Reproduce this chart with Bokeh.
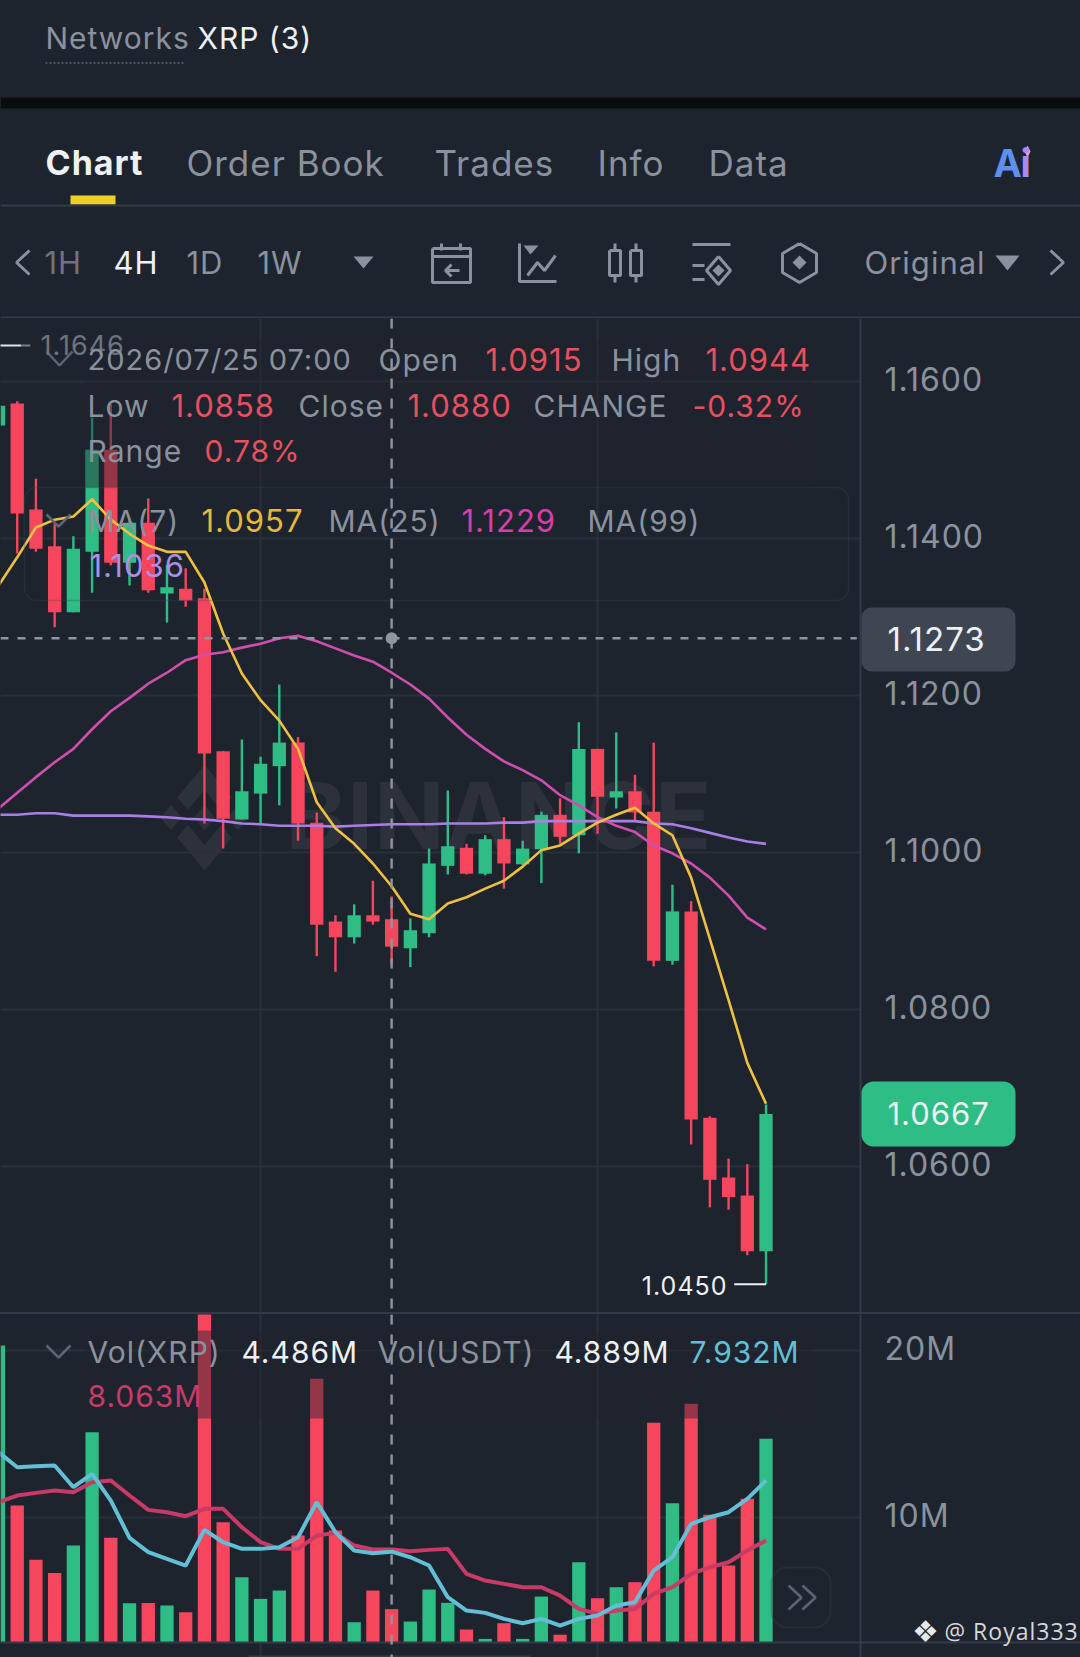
from bokeh.embed import file_html
from bokeh.resources import INLINE
from bokeh.plotting import figure
from bokeh.layouts import column
from bokeh.models import (Range1d, LinearAxis, FixedTicker, Grid, Label, BoxAnnotation, Span, Spacer,
                          NumeralTickFormatter, GlobalInlineStyleSheet)

# ---- data -----------------------------------------------------------------
opens = [1.1544,1.1572,1.1437,1.1390,1.1306,1.1383,1.1513,1.1369,1.1420,1.1330,1.1336,1.1324,1.1129,1.1042,
         1.1075,1.1110,1.1140,1.1038,1.0912,1.0892,1.0920,1.0915,1.0878,1.0897,1.0983,1.1006,1.0973,1.1017,
         1.0985,1.1004,1.1048,1.1022,1.1132,1.1070,1.1078,1.1052,1.0862,1.0925,1.0662,1.0586,1.0563,1.0492]
highs = [1.1572,1.1575,1.1476,1.1419,1.1403,1.1554,1.1571,1.1423,1.1451,1.1366,1.1362,1.1336,1.1129,1.1144,
         1.1122,1.1214,1.1147,1.1051,1.0920,1.0934,1.0964,1.0944,1.0916,1.1005,1.1079,1.1011,1.1022,1.1045,
         1.1015,1.1052,1.1069,1.1166,1.1132,1.1153,1.1099,1.1140,1.0959,1.0938,1.0664,1.0610,1.0603,1.0679]
lows  = [1.1540,1.1381,1.1383,1.1287,1.1306,1.1331,1.1366,1.1340,1.1331,1.1293,1.1313,1.1037,1.1005,1.1042,
         1.1037,1.1060,1.1015,1.0868,1.0848,1.0884,1.0908,1.0858,1.0854,1.0892,1.0972,1.0972,1.0971,1.0954,
         1.0984,1.0961,1.1011,1.0999,1.1024,1.1056,1.1041,1.0855,1.0857,1.0628,1.0548,1.0545,1.0487,1.0450]
closes= [1.1569,1.1432,1.1387,1.1306,1.1387,1.1513,1.1369,1.1420,1.1334,1.1338,1.1321,1.1126,1.1043,1.1078,
         1.1113,1.1140,1.1037,1.0908,1.0892,1.0920,1.0912,1.0880,1.0901,1.0986,1.1008,1.0973,1.1017,1.0986,
         1.1005,1.1048,1.1020,1.1132,1.1071,1.1078,1.1051,1.0862,1.0925,1.0660,1.0583,1.0561,1.0492,1.0667]
ma7   = [1.1340,1.1376,1.1414,1.1424,1.1428,1.1450,1.1424,1.1406,1.1391,1.1383,1.1383,1.1344,1.1279,1.1228,
         1.1194,1.1168,1.1132,1.1064,1.1031,1.1011,1.0986,1.0957,1.0922,1.0915,1.0935,1.0943,1.0954,1.0964,
         1.0982,1.1003,1.1009,1.1024,1.1038,1.1048,1.1057,1.1037,1.1022,1.0968,1.0890,1.0812,1.0732,1.0680]
ma25  = [1.1056,1.1076,1.1096,1.1115,1.1132,1.1157,1.1180,1.1197,1.1215,1.1229,1.1245,1.1252,1.1255,1.1261,
         1.1266,1.1273,1.1276,1.1269,1.1260,1.1251,1.1243,1.1229,1.1214,1.1196,1.1172,1.1150,1.1132,1.1116,
         1.1105,1.1092,1.1073,1.1060,1.1045,1.1034,1.1026,1.1009,1.0999,1.0986,1.0968,1.0945,1.0917,1.0902]
ma99  = [1.1048,1.1048,1.1050,1.1050,1.1047,1.1047,1.1047,1.1047,1.1046,1.1045,1.1043,1.1042,1.1040,1.1037,
         1.1036,1.1034,1.1034,1.1034,1.1033,1.1034,1.1035,1.1036,1.1036,1.1036,1.1037,1.1037,1.1037,1.1038,
         1.1038,1.1040,1.1040,1.1040,1.1040,1.1040,1.1040,1.1037,1.1036,1.1031,1.1025,1.1019,1.1014,1.1011]
volume= [20.3,10.7,7.45,6.66,8.3,15.1,8.76,4.84,4.86,4.7,4.3,23.1,9.7,6.4,5.1,5.6,8.9,18.3,9.2,3.7,5.6,4.486,
         3.74,5.66,4.86,3.26,2.7,3.64,2.7,5.24,2.95,7.3,5.14,5.8,6.1,15.66,10.84,16.8,10.14,7.1,11.1,14.7]
vol_ma_a = [13.9,13.0,13.06,13.1,11.8,12.6,11.0,8.76,7.9,7.5,7.1,9.24,8.5,8.1,8.1,8.2,8.8,10.9,9.1,8.0,7.84,7.932,
            7.6,7.1,5.2,4.4,4.26,3.9,3.64,3.9,3.5,3.9,4.1,4.7,4.9,6.8,7.6,9.6,10.0,10.3,11.1,12.2]
vol_ma_b = [10.9,11.3,11.46,11.6,11.5,12.1,12.2,11.3,10.44,10.3,10.06,10.5,10.5,9.4,8.5,8.1,8.1,8.9,9.06,8.3,8.06,8.063,
            7.96,8.04,8.1,6.6,6.2,6.0,5.8,5.8,5.3,4.5,4.2,4.4,4.5,5.4,5.8,6.6,7.0,7.3,8.0,8.6]
price_ticks = [1.06,1.08,1.10,1.12,1.14,1.16]
volume_ticks = [10,20]
time_ticks = [14,32]
cross_index = 21
cross_price = 1.1273
last_price = 1.0667
low_price = 1.0450
high_price = 1.1646

# ---- style ----------------------------------------------------------------
BG = "#1e242e"
GRID = "#2a303a"
SEP = "#343b46"
GRAY = "#8a929e"
WHITE = "#eef0f3"
RED = "#f6465d"
GREEN = "#2ebd85"
TXT_RED = "#e8505f"
YEL = "#f0c040"
MAG = "#d04fae"
PUR = "#a97fe6"
CYAN = "#62bfd6"
VRED = "#c93a66"
WM = "#2c313b"
CROSS = "#8f96a0"
FONT = "Inter"

idx = list(range(len(opens)))
colors = [GREEN if c >= o else RED for o, c in zip(opens, closes)]
xspan = (0.1068, 57.799)     # the frame runs over the whole page width
x_axis_at = 46.047           # where the value axis stands


def base(h, yr):
    f = figure(width=1080, height=h, x_range=Range1d(*xspan), y_range=yr, output_backend="svg",
               toolbar_location=None, x_axis_location=None, y_axis_location=None,
               background_fill_color=BG, border_fill_color=BG, outline_line_color=None,
               min_border=0, min_border_left=0, min_border_right=0, min_border_top=0, min_border_bottom=0)
    f.grid.visible = False
    return f


def lab(f, x, y, text, color=GRAY, size=30, weight="normal", align="left", font=FONT, level="annotation", rng=True):
    kw = dict(x_range_name="px", y_range_name="py") if rng else {}
    f.add_layout(Label(x=x, y=y, text=text, text_color=color, text_font=font, text_font_size=f"{size}px",
                       text_font_style=weight, text_align=align, text_baseline="middle", level=level, **kw))


def box(f, l, r, t, b, fill=None, alpha=1.0, line=None, radius=0, lw=1.5):
    f.add_layout(BoxAnnotation(left=l, right=r, top=t, bottom=b, x_range_name="px", y_range_name="py",
                               fill_color=fill, fill_alpha=alpha, line_color=line, line_width=lw,
                               border_radius=radius))


def value_axis(f, ticks, rng_name, fmt=None, overrides=None):
    ax = LinearAxis(y_range_name=rng_name, ticker=FixedTicker(ticks=ticks), fixed_location=x_axis_at,
                    major_tick_line_color=None, minor_tick_line_color=None, major_tick_out=0, major_tick_in=0,
                    axis_line_color=SEP, axis_line_width=2, major_label_standoff=24,
                    major_label_text_color=GRAY, major_label_text_font=FONT, major_label_text_font_size="32px")
    if fmt:
        ax.formatter = fmt
    if overrides:
        ax.major_label_overrides = overrides
    f.add_layout(ax, "right")


def grids(f, yticks):
    f.add_layout(Grid(dimension=1, ticker=FixedTicker(ticks=yticks), grid_line_color=GRID, grid_line_width=2,
                      cross_bounds=(xspan[0], x_axis_at)))
    f.add_layout(Grid(dimension=0, ticker=FixedTicker(ticks=time_ticks), grid_line_color=GRID, grid_line_width=2))


# ---- header ---------------------------------------------------------------
hd = figure(width=1080, height=318, x_range=Range1d(0, 1080), y_range=Range1d(318, 0), output_backend="svg",
            toolbar_location=None, x_axis_location=None, y_axis_location=None,
            background_fill_color=BG, border_fill_color=BG, outline_line_color=None, min_border=0,
            min_border_left=0, min_border_right=0, min_border_top=0, min_border_bottom=0)
hd.grid.visible = False
lh = lambda x, y, t, c=GRAY, s=30, w="normal", a="left": lab(hd, x, y, t, c, s, w, a, rng=False)
lh(45, 37, "Networks")
lh(197, 37, "XRP (3)", WHITE)
hd.line([45, 185], [62.5, 62.5], line_color="#5a616c", line_width=1.5, line_dash="2 2")
hd.quad(left=[0], right=[1080], top=[97], bottom=[108], fill_color="#0a0d10", line_color=None)
lh(45, 162, "Chart", WHITE, 34, "bold")
lh(186, 162, "Order Book", GRAY, 35)
lh(434, 162, "Trades", GRAY, 35)
lh(597, 162, "Info", GRAY, 35)
lh(708, 162, "Data", GRAY, 35)
lh(993, 162, "A", "#5f8ff0", 38, "bold")
lh(1020, 162, "i", "#a68bf0", 38, "bold")
hd.patch([1027, 1030, 1027, 1024], [145, 151, 157, 151], fill_color="#e8a0d8", line_color=None)
hd.quad(left=[70], right=[115], top=[195], bottom=[204], fill_color="#f0cf2a", line_color=None)
hd.line([0, 1080], [205, 205], line_color=SEP, line_width=2)
hd.line([0, 1080], [317, 317], line_color=SEP, line_width=2)
# time row
lh(44, 262, "1H", "#6d7480", 31)
lh(113, 262, "4H", WHITE, 31)
lh(186, 262, "1D", GRAY, 31)
lh(257, 262, "1W", GRAY, 31)
lh(864, 262, "Original", GRAY, 31)
hd.multi_line([[29, 16, 29], [1050, 1063, 1050]], [[250, 262, 274], [250, 262, 274]], line_color=GRAY, line_width=3)
hd.patches([[353, 373, 363], [995, 1019, 1007]], [[256, 256, 268], [255, 255, 270]], fill_color=GRAY, line_color=None)
icon_x = [
    [432, 470, 470, 432, 432], [432, 470], [441, 441], [460, 460], [459, 445], [451, 445, 451],  # calendar
    [519, 519, 556], [527, 537, 544, 555],  # chart
    [609, 620, 620, 609, 609], [614.5, 614.5], [614.5, 614.5], [630, 641, 641, 630, 630], [635.5, 635.5], [635.5, 635.5],  # candle
    [692, 730], [692, 704], [692, 704], [718, 730, 718, 706, 718],  # list
    [799, 816, 816, 799, 782, 782, 799],  # hexagon
]
icon_y = [
    [248, 248, 282, 282, 248], [256, 256], [243, 250], [243, 250], [270, 270], [264, 270, 276],
    [243, 281, 281], [275, 262, 270, 255],
    [250, 250, 275, 275, 250], [243, 250], [275, 282], [250, 250, 275, 275, 250], [243, 250], [275, 282],
    [244, 244], [265, 265], [279, 279], [256, 270, 284, 270, 256],
    [243, 253, 272, 282, 272, 253, 243],
]
hd.multi_line(icon_x, icon_y, line_color=GRAY, line_width=3)
hd.patches([[523, 538, 530], [792, 799, 806, 799], [712, 718, 724, 718]],
           [[245, 245, 254], [262, 255, 262, 269], [270, 264, 270, 276]], fill_color=GRAY, line_color=None)

# ---- price panel ----------------------------------------------------------
PX = 7850.0
price_at = lambda y: 1.06 + (1166 - y) / PX
pc = base(994, Range1d(price_at(1312), price_at(318)))
pc.extra_x_ranges["px"] = Range1d(0, 1080)
pc.extra_y_ranges["py"] = Range1d(1312, 318)
pc.extra_y_ranges["labels"] = Range1d(price_at(1312) - 2.5 / PX, price_at(318) - 2.5 / PX)
grids(pc, price_ticks)
value_axis(pc, price_ticks, "labels", fmt=NumeralTickFormatter(format="0.0000"))

# watermark
lab(pc, 285, 815, "BINANCE", WM, 92, "bold", level="underlay")
cx, cy, sx, sy = 204, 817, 44, 53
shapes = [[(0, -1), (.62, -.38), (.38, -.14), (0, -.52), (-.38, -.14), (-.62, -.38)],
          [(0, 1), (.62, .38), (.38, .14), (0, .52), (-.38, .14), (-.62, .38)],
          [(0, -.24), (.24, 0), (0, .24), (-.24, 0)],
          [(-1, 0), (-.76, -.24), (-.52, 0), (-.76, .24)],
          [(1, 0), (.76, -.24), (.52, 0), (.76, .24)]]
pc.patches([[cx + a * sx for a, _ in s] for s in shapes], [[cy + b * sy for _, b in s] for s in shapes],
           x_range_name="px", y_range_name="py", fill_color=WM, line_color=None, level="underlay")

# candles
pc.segment(idx, highs, idx, lows, line_color=colors, line_width=2.4)
pc.vbar(idx, 0.71, opens, closes, fill_color=colors, line_color=None)
pc.line(idx, ma99, line_color=PUR, line_width=2.6)
pc.line(idx, ma25, line_color=MAG, line_width=2.6)
pc.line(idx, ma7, line_color=YEL, line_width=2.6)
# extreme markers
pc.segment([-1], [high_price], [1.2], [high_price], line_color="#e0e3e6", line_width=2)
pc.segment([1.2], [high_price], [1.7], [high_price], line_color="#777e88", line_width=2)
pc.segment([39.3], [low_price], [41], [low_price], line_color=WHITE, line_width=2)
# legend dim and box
box(pc, 85, 812, 338, 487, BG, 0.45)
box(pc, 24, 848, 487, 600, None, 1, "#3f4650", 12, 1.5)
pc.add_layout(Span(location=cross_index, dimension="height", line_color=CROSS, line_width=2.4, line_dash="10 10"))
pc.line([xspan[0], x_axis_at - 0.2], [cross_price, cross_price], line_color=CROSS, line_width=2.4, line_dash="8 9")
pc.scatter([cross_index], [cross_price], size=12, fill_color=CROSS, line_color=None)
# legend text
lab(pc, 40, 344, f"{high_price:.4f}", "#6d7480", 27)
pc.multi_line([[46, 59, 72], [46, 58, 70]], [[351, 365, 351], [514, 526, 514]], x_range_name="px",
              y_range_name="py", line_color="#5d6570", line_width=2.5)
lab(pc, 87, 359, "2026/07/25 07:00", GRAY, 29)
for x, y, t, c in [
    (378, 359, "Open", GRAY), (611, 359, "High", GRAY),
    (87, 405, "Low", GRAY), (298, 405, "Close", GRAY), (533, 405, "CHANGE", GRAY),
    (87, 450, "Range", GRAY), (87, 520, "MA(7)", GRAY), (328, 520, "MA(25)", GRAY), (587, 520, "MA(99)", GRAY),
    (692, 405, "-0.32%", TXT_RED), (204, 450, "0.78%", TXT_RED),
]:
    lab(pc, x, y, t, c)
for x, y, t, c in [
    (485, 359, "1.0915", TXT_RED), (705, 359, "1.0944", TXT_RED),
    (171, 405, "1.0858", TXT_RED), (407, 405, "1.0880", TXT_RED),
    (201, 520, "1.0957", "#e6b83c"), (461, 520, "1.1229", "#d63fa8"),
    (89, 565, "1.1036", "#a98fe6"),
]:
    lab(pc, x, y, t, c, 31)
lab(pc, 721, 1285, f"{low_price:.4f}", WHITE, 25, align="right")
# price badges
box(pc, 861, 1015, 607, 671, "#3e4652", 1, None, 10)
lab(pc, 887, 638, f"{cross_price:.4f}", WHITE, 33)
box(pc, 861, 1015, 1081, 1146, GREEN, 1, None, 12)
lab(pc, 887, 1113, f"{last_price:.4f}", WHITE, 31)

# ---- volume panel ---------------------------------------------------------
VPX = 16.67
vol_at = lambda y: (1683.4 - y) / VPX
vc = base(343, Range1d(vol_at(1657), vol_at(1314)))
vc.extra_x_ranges["px"] = Range1d(0, 1080)
vc.extra_y_ranges["py"] = Range1d(1657, 1314)
vc.extra_y_ranges["labels"] = Range1d(vol_at(1657) - 2 / VPX, vol_at(1314) - 2 / VPX)
grids(vc, volume_ticks)
value_axis(vc, volume_ticks, "labels", overrides={10: "10M", 20: "20M"})
vc.vbar(idx, 0.71, vol_at(1641.5), volume, fill_color=colors, line_color=None)
vc.line(idx, vol_ma_b, line_color=VRED, line_width=4)
vc.line(idx, vol_ma_a, line_color=CYAN, line_width=4)
box(vc, 85, 812, 1330, 1418, BG, 0.45)
vc.add_layout(Span(location=cross_index, dimension="height", line_color=CROSS, line_width=2.4, line_dash="10 10"))
vc.multi_line([[46, 58, 70], [788, 801, 788], [802, 815, 802]], [[1345, 1357, 1345], [1585, 1597, 1609], [1585, 1597, 1609]],
              x_range_name="px", y_range_name="py", line_color="#5d6570", line_width=2.5)
vc.line([0, 1080], [1642, 1642], x_range_name="px", y_range_name="py", line_color=SEP, line_width=2)
vc.quad(left=[248], right=[530], top=[1655], bottom=[1657], x_range_name="px", y_range_name="py",
        fill_color="#2a4145", line_color=None)
box(vc, 771, 830, 1567, 1627, None, 1, "#3a414c", 16, 2)
for x, t, c in [(87, "Vol(XRP)", GRAY), (241, "4.486M", WHITE), (377, "Vol(USDT)", GRAY), (554, "4.889M", WHITE),
                (689, "7.932M", CYAN)]:
    lab(vc, x, 1351, t, c)
lab(vc, 87, 1395, "8.063M", VRED)
lab(vc, 944, 1630, "@ Royal333", "#d5d8dc", 23, font="Open Sans")
lab(vc, 925, 1631, "\u2756", "#e6e8ea", 30, align="center", font="DejaVu Sans")

# ---- page -----------------------------------------------------------------
sep1 = Spacer(width=1080, height=2, styles={"background-color": SEP})
p = column(hd, pc, sep1, vc, spacing=0,
           stylesheets=[GlobalInlineStyleSheet(css=f"html,body{{background:{BG};margin:0;padding:0;overflow:hidden;letter-spacing:1px}}")])

open("out.html", "w").write(file_html(p, INLINE))
